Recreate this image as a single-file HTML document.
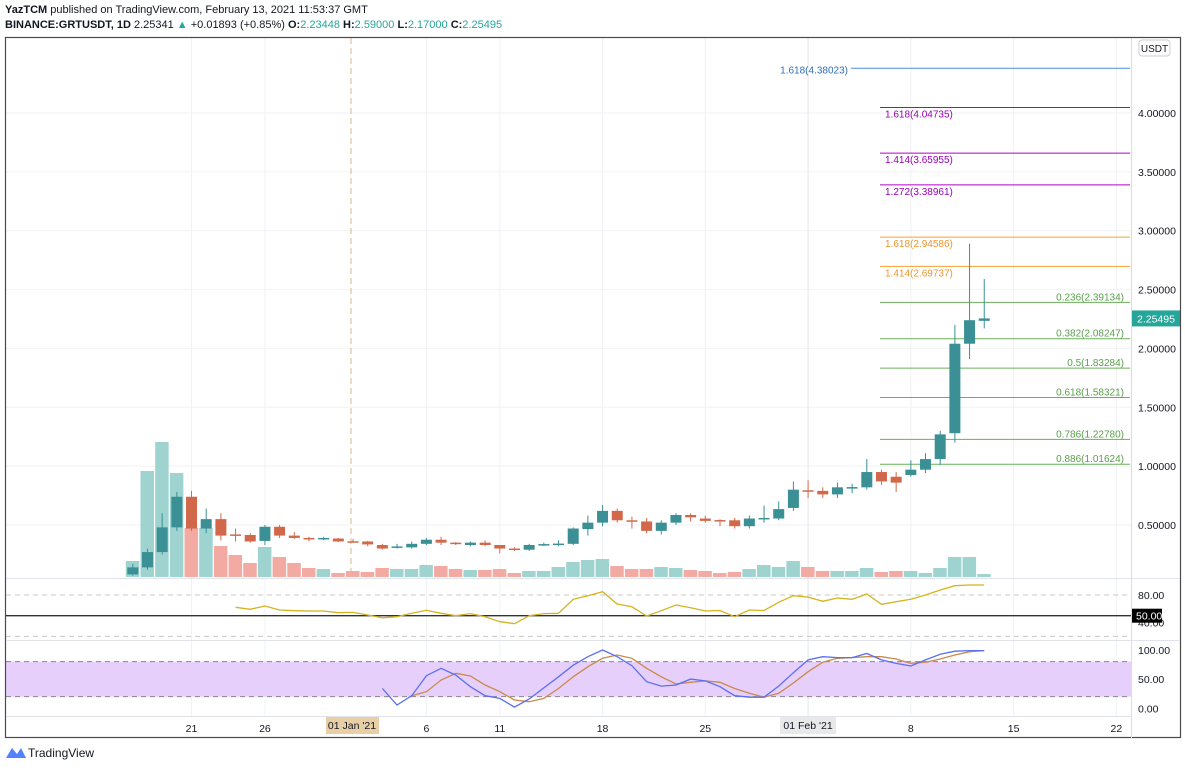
<!DOCTYPE html>
<html><head><meta charset="utf-8"><style>
body{margin:0;background:#fff;width:1185px;height:768px;overflow:hidden;font-family:"Liberation Sans",sans-serif}
svg{position:absolute;left:0;top:0}
</style></head><body>
<svg id="c" width="1185" height="768" viewBox="0 0 1185 768" xmlns="http://www.w3.org/2000/svg" font-family="Liberation Sans, sans-serif">
<text x="5" y="13" font-size="11" fill="#131722"><tspan font-weight="bold">YazTCM</tspan> published on TradingView.com, February 13, 2021 11:53:37 GMT</text>
<text x="5" y="28" font-size="11" fill="#131722"><tspan font-weight="bold">BINANCE:GRTUSDT, 1D</tspan> 2.25341 <tspan fill="#26a69a">▲</tspan> +0.01893 (+0.85%) <tspan font-weight="bold">O:</tspan><tspan fill="#26a69a">2.23448</tspan> <tspan font-weight="bold">H:</tspan><tspan fill="#26a69a">2.59000</tspan> <tspan font-weight="bold">L:</tspan><tspan fill="#26a69a">2.17000</tspan> <tspan font-weight="bold">C:</tspan><tspan fill="#26a69a">2.25495</tspan></text>
<g id="grid"></g>
<g id="marks"></g>
<rect x="5.5" y="37.5" width="1175" height="700" fill="none" stroke="#4a4a4a" stroke-width="1.2"/>
<line x1="1131.5" y1="38" x2="1131.5" y2="738" stroke="#dadde3"/>
<line x1="6" y1="578.5" x2="1180" y2="578.5" stroke="#e0e3eb"/>
<line x1="6" y1="640.5" x2="1180" y2="640.5" stroke="#e0e3eb"/>
<line x1="6" y1="716.5" x2="1131" y2="716.5" stroke="#e0e3eb"/>
<g><rect x="1139" y="40" width="31" height="16" rx="3" fill="#fff" stroke="#ccc"/><text x="1154.5" y="52" font-size="10" text-anchor="middle" fill="#131722">USDT</text></g>
<g><path d="M6 758 L12 748 L17 754 L21 748 L26 758 Z" fill="#2962ff" opacity="0.8"/><text x="28" y="757" font-size="12" fill="#131722">TradingView</text></g>
</svg>
<script>
const dates=["12-17","12-18","12-19","12-20","12-21","12-22","12-23","12-24","12-25","12-26","12-27","12-28","12-29","12-30","12-31","01-01","01-02","01-03","01-04","01-05","01-06","01-07","01-08","01-09","01-10","01-11","01-12","01-13","01-14","01-15","01-16","01-17","01-18","01-19","01-20","01-21","01-22","01-23","01-24","01-25","01-26","01-27","01-28","01-29","01-30","01-31","02-01","02-02","02-03","02-04","02-05","02-06","02-07","02-08","02-09","02-10","02-11","02-12","02-13"];
const opens=[0.08,0.14,0.27,0.48,0.74,0.47,0.55,0.42,0.415,0.365,0.485,0.41,0.39,0.385,0.385,0.362,0.36,0.33,0.31,0.31,0.34,0.375,0.35,0.33,0.35,0.33,0.30,0.29,0.33,0.338,0.34,0.465,0.52,0.62,0.54,0.53,0.45,0.52,0.585,0.555,0.542,0.54,0.49,0.555,0.555,0.645,0.795,0.79,0.76,0.818,0.82,0.95,0.91,0.925,0.97,1.06,1.28,2.04,2.23448];
const highs=[0.17,0.30,0.60,0.78,0.79,0.64,0.60,0.47,0.43,0.50,0.50,0.44,0.40,0.40,0.39,0.38,0.365,0.34,0.34,0.36,0.39,0.40,0.355,0.36,0.37,0.33,0.31,0.34,0.35,0.37,0.48,0.58,0.67,0.64,0.57,0.56,0.54,0.60,0.60,0.58,0.55,0.56,0.58,0.665,0.70,0.87,0.88,0.82,0.86,0.85,1.06,0.97,0.95,1.05,1.11,1.30,2.20,2.89,2.59];
const lows=[0.07,0.12,0.25,0.45,0.45,0.43,0.37,0.36,0.35,0.33,0.39,0.38,0.36,0.37,0.355,0.35,0.32,0.29,0.30,0.30,0.33,0.33,0.33,0.32,0.32,0.26,0.28,0.28,0.32,0.32,0.33,0.41,0.49,0.52,0.47,0.43,0.42,0.50,0.53,0.52,0.49,0.47,0.47,0.52,0.54,0.62,0.73,0.73,0.73,0.77,0.80,0.84,0.78,0.91,0.94,1.01,1.20,1.91,2.17];
const closes=[0.14,0.27,0.48,0.74,0.47,0.55,0.41,0.41,0.36,0.485,0.41,0.39,0.385,0.39,0.36,0.358,0.335,0.30,0.318,0.34,0.375,0.35,0.34,0.35,0.33,0.30,0.29,0.33,0.338,0.342,0.47,0.52,0.62,0.54,0.53,0.45,0.52,0.585,0.565,0.535,0.538,0.49,0.555,0.56,0.635,0.80,0.785,0.76,0.82,0.822,0.95,0.87,0.86,0.97,1.06,1.27,2.04,2.24,2.25495];
const volumes=[16,106,135,104,49,49,31,22,14,30,20,14,9,8,4,6,5,9,8,8,12,11,8,7,7,8,4,6,6,10,15,17,18,11,8,8,10,9,7,6,4,5,8,12,10,16,10,6,6,6,9,5,6,6,4,9,20,20,3];
const rsi=[null,null,null,null,null,null,null,62.2,59.3,64,58.3,57.2,56.8,56.8,54.4,54.8,51,47,48.6,53.5,57.8,53.5,50,53,48.6,41.3,38.4,50,53,53.5,73.7,79,84.8,67,63,49.6,57.2,65.5,61.6,56.8,57.5,48.6,58.3,57.5,69.4,79,77,70.8,75.6,73.7,81.4,66.5,70.3,73.7,80,87.2,93.5,94.5,94.5];
const stochK=[null,null,null,null,null,null,null,null,null,null,null,null,null,null,null,null,null,34,5.7,21.6,56,68.6,57,37,21.6,17,2,16,35,54,74,88.5,100,88.5,73,45.6,38,40,50,47,37,21.6,19,19,38,61,83,88.5,87,87,94,83,77,72.5,83,92.6,98,99,99];
const stochD=[null,null,null,null,null,null,null,null,null,null,null,null,null,null,null,null,null,null,null,21.6,28.5,48.5,60,55.4,40,28.5,14.2,11.3,17,34,54,71.4,85.7,91.4,85.7,68.6,54,41.7,44.6,47,44.6,34,25.7,19,25.7,43.4,62.8,79,85.7,87,88.5,88.5,84.6,77,79,84.6,91.4,97,99];
const priceTicks=[0.5,1.0,1.5,2.0,2.5,3.0,3.5,4.0];
const dateTicks=[["12-21","21"],["12-26","26"],["01-06","6"],["01-11","11"],["01-18","18"],["01-25","25"],["02-08","8"],["02-15","15"],["02-22","22"]];
const fibValues=[4.38023,4.04735,3.65955,3.38961,2.94586,2.69737,2.39134,2.08247,1.83284,1.58321,1.2278,1.01624];
const fibRatios=["1.618","1.618","1.414","1.272","1.618","1.414","0.236","0.382","0.5","0.618","0.786","0.886"];

const NS="http://www.w3.org/2000/svg";
function dayOf(s){const m=+s.slice(0,2),d=+s.slice(3);const y=m===12?2020:2021;return (Date.UTC(y,m-1,d)-Date.UTC(2021,0,1))/864e5;}
const xOf=s=>353+dayOf(s)*14.68;
const yP=p=>525-(p-0.5)*117.71;
const yV=v=>577-v*1.0;
const yR=v=>615.7-(v-50)*0.69;
const yS=v=>708.3-v*0.583;
function el(tag,attrs,parent,text){const e=document.createElementNS(NS,tag);for(const k in attrs)e.setAttribute(k,attrs[k]);if(text!==undefined)e.textContent=text;parent.appendChild(e);return e;}
const grid=document.getElementById('grid'),marks=document.getElementById('marks');

priceTicks.forEach(p=>{
 const y=yP(p);
 const l=el('line',{x1:6,x2:1131,y1:y,y2:y,stroke:'#f0f2f5'},grid);
 
 
 const t=el('text',{x:1138,y:y+4,'font-size':10.5,fill:'#131722'},grid,p.toFixed(5));
 
 
});
dateTicks.forEach(d=>{
 const x=xOf(d[0]);
 const l=el('line',{x1:x,x2:x,y1:38,y2:716,stroke:'#f0f2f5'},grid);
 
 
 const t=el('text',{x:x,y:732,'font-size':10.5,fill:'#131722','text-anchor':'middle'},grid,d[1]);
 
 
});
// period separators
const jan=xOf("01-01"),feb=xOf("02-01");
let s1=el('line',{x1:jan-2,x2:jan-2,y1:38,y2:578,stroke:'#d9b48a','stroke-dasharray':'6,4'},grid);


let s2=el('line',{x1:feb,x2:feb,y1:38,y2:716,stroke:'#e3e5ea'},grid);


let g1=el('g',{},grid);


el('rect',{x:jan-27,y:716,width:53,height:18,fill:'#e8cfa6'},g1);el('text',{x:jan-1,y:729,'font-size':10.5,'text-anchor':'middle',fill:'#131722'},g1,"01 Jan '21");
let g2=el('g',{},grid);


el('rect',{x:feb-28,y:716,width:56,height:18,fill:'#e9e9e9'},g2);el('text',{x:feb,y:729,'font-size':10.5,'text-anchor':'middle',fill:'#131722'},g2,"01 Feb '21");

// RSI pane guides
[80,20].forEach(v=>{const l=el('line',{x1:6,x2:1131,y1:yR(v),y2:yR(v),stroke:'#c8c8c8','stroke-dasharray':'5,4'},grid);
 
 });
let m50=el('line',{x1:6,x2:1131,y1:yR(50),y2:yR(50),stroke:'#333','stroke-width':1.3},grid);


el('text',{x:1138,y:yR(80)+4,'font-size':10.5,fill:'#131722'},grid,'80.00');
el('text',{x:1138,y:yR(40)+4,'font-size':10.5,fill:'#131722'},grid,'40.00');
let b50=el('g',{},grid);


el('rect',{x:1131,y:yR(50)-7,width:31,height:14,fill:'#000'},b50);el('text',{x:1136,y:yR(50)+4,'font-size':10.5,fill:'#fff'},b50,'50.00');
// Stoch pane
let band=el('rect',{x:6,y:yS(80),width:1125,height:yS(20)-yS(80),fill:'#e7cffc'},grid);


[80,20].forEach(v=>{const l=el('line',{x1:6,x2:1131,y1:yS(v),y2:yS(v),stroke:'#888','stroke-dasharray':'5,4'},grid);
 
 });
[100,50,0].forEach(v=>{const t=el('text',{x:1138,y:yS(v)+4,'font-size':10.5,fill:'#131722'},grid,v.toFixed(2));
 
 });

// volume
dates.forEach((d,i)=>{
 const up=closes[i]>=opens[i];const x=xOf(d);
 const r=el('rect',{x:x-7,y:yV(volumes[i]),width:13.5,height:577-yV(volumes[i]),fill:up?'#9fd3cf':'#f2aaa3'},marks);
 
 
});
// fib lines
fibValues.forEach((v,i)=>{
 const y=yP(v);
 let color,x1,tx,anchor,ty;
 if(i===0){color='#4a90d9';x1=851;tx=848;anchor='end';ty=y+5;}
 else if(i<4){color='#b000c8';x1=880;tx=885;anchor='start';ty=y+10;}
 else if(i<6){color='#f5a030';x1=880;tx=885;anchor='start';ty=y+10;}
 else {color='#6aaf5a';x1=880;tx=1124;anchor='end';ty=y-2;}
 const l=el('line',{x1:x1,x2:1130,y1:y,y2:y,stroke:color,'stroke-width':1},marks);
 
 
 const tc=i===0?'#2f6fb8':(i<4?'#9a00b8':(i<6?'#f0952a':'#5a9e4a'));
 const t=el('text',{x:tx,y:ty,'font-size':10,fill:tc,'text-anchor':anchor},marks,fibRatios[i]+'('+v.toFixed(5)+')');
 
 
});
// candles
dates.forEach((d,i)=>{
 const up=closes[i]>=opens[i];const x=xOf(d);const c=up?'#3a9095':'#d2684a';
 const g=el('g',{},marks);
 
 
 el('line',{x1:x,x2:x,y1:yP(highs[i]),y2:yP(lows[i]),stroke:c,'stroke-width':1},g);
 const top=yP(Math.max(opens[i],closes[i])),bot=yP(Math.min(opens[i],closes[i]));
 el('rect',{x:x-5.5,y:top,width:11,height:Math.max(1.5,bot-top),fill:c},g);
});
// last price badge
const lp=closes[closes.length-1];
let pl=el('g',{},marks);


el('rect',{x:1131,y:yP(lp)-8,width:49,height:16,fill:'#26a69a'},pl);
el('text',{x:1137,y:yP(lp)+4,'font-size':10.5,fill:'#fff'},pl,lp.toFixed(5));
// line helper
function series(arr,yf,color,name){
 let dstr='';let started=false;
 arr.forEach((v,i)=>{if(v===null)return;dstr+=(started?'L':'M')+xOf(dates[i]).toFixed(1)+' '+yf(v).toFixed(1)+' ';started=true;});
 const p=el('path',{d:dstr,fill:'none',stroke:color,'stroke-width':1.3},marks);
 
 
}
series(rsi,yR,'#d4b41e','rsi-line');
series(stochD,yS,'#c88a4a','stoch-d-line');
series(stochK,yS,'#5b6ff0','stoch-k-line');
</script>
</body></html>
